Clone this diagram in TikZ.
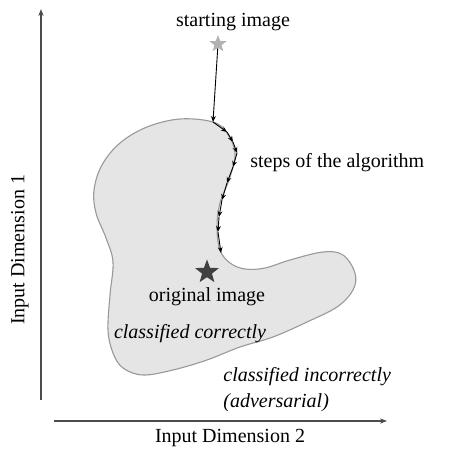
\documentclass[tikz,border=0pt]{standalone}
\usepackage{fontspec}
\setmainfont{Liberation Serif}
\usetikzlibrary{arrows.meta,shapes.geometric,positioning}
\tikzset{
  axis/.style={draw=black!70, line width=0.6pt, -{Stealth[length=3.5pt,width=2.6pt]}},
  stepline/.style={draw=black, line width=0.45pt, -{Stealth[length=3pt,width=2.4pt]}},
  starnode/.style={star, star points=5, star point ratio=2.4, inner sep=0pt},
  region/.style={fill=black!10, draw=black!40, line width=0.55pt},
  lbl/.style={font=\fontsize{10}{12}\selectfont, inner sep=1pt}
}
\begin{document}
\begin{tikzpicture}[x=0.5pt,y=-0.5pt]
        \useasboundingbox (0,0) rectangle (472,459);
        % region classified correctly
        \draw[region] plot[smooth cycle, tension=0.6] coordinates {
          (213,122) (227,133) (235,153) (230,177) (220,203) (217,227)
          (220,250) (230,263) (245,269) (265,268) (290,260) (323,252)
          (343,255) (355,273) (353,290) (337,307) (307,322) (273,337)
          (240,347) (207,360) (173,370) (143,375) (123,368) (113,353)
          (108,330) (110,295) (113,262) (106,238) (96,213) (94,190)
          (102,165) (120,143) (147,127) (180,119)};
        % axes
        \coordinate (yb) at (41,400);
        \coordinate (yt) at (41,9);
        \coordinate (xl) at (54,421);
        \coordinate (xr) at (387,421);
        \draw[axis] (yb) -- (yt);
        \draw[axis] (xl) -- (xr);
        \node[lbl, rotate=90] (ylab) at (20,250) {Input Dimension 1};
        \node[lbl] (xlab) at (230,438) {Input Dimension 2};
        % stars
        \node[starnode, fill=black!30, minimum size=9pt] (start) at (218,44) {};
        \node[starnode, fill=black!75, minimum size=12.5pt] (orig) at (207,272) {};
        \node[lbl] (startlab) at (233,22) {starting image};
        \node[lbl, below=4pt of orig] (origlab) {original image};
        % steps
        \foreach \n/\x/\y in {0/213/122, 1/227/132, 2/233/142, 3/237/153,
                              4/233/167, 5/227/183, 6/222/200, 7/219/217,
                              8/218/232, 9/221/253}
          \coordinate (s\n) at (\x,\y);
        \draw[stepline] (start) -- (s0);
        \foreach \a [evaluate=\a as \b using int(\a+1)] in {0,...,8}
          \draw[stepline] (s\a) -- (s\b);
        \node[lbl, anchor=west] (steplab) at (248,163) {steps of the algorithm};
        % region labels
        \node[lbl] (corr) at (190,334) {\itshape classified correctly};
        \node[lbl, anchor=west, align=left] (incorr) at (221,390)
          {\itshape classified incorrectly\\[1pt]\itshape (adversarial)};
\end{tikzpicture}
\end{document}
